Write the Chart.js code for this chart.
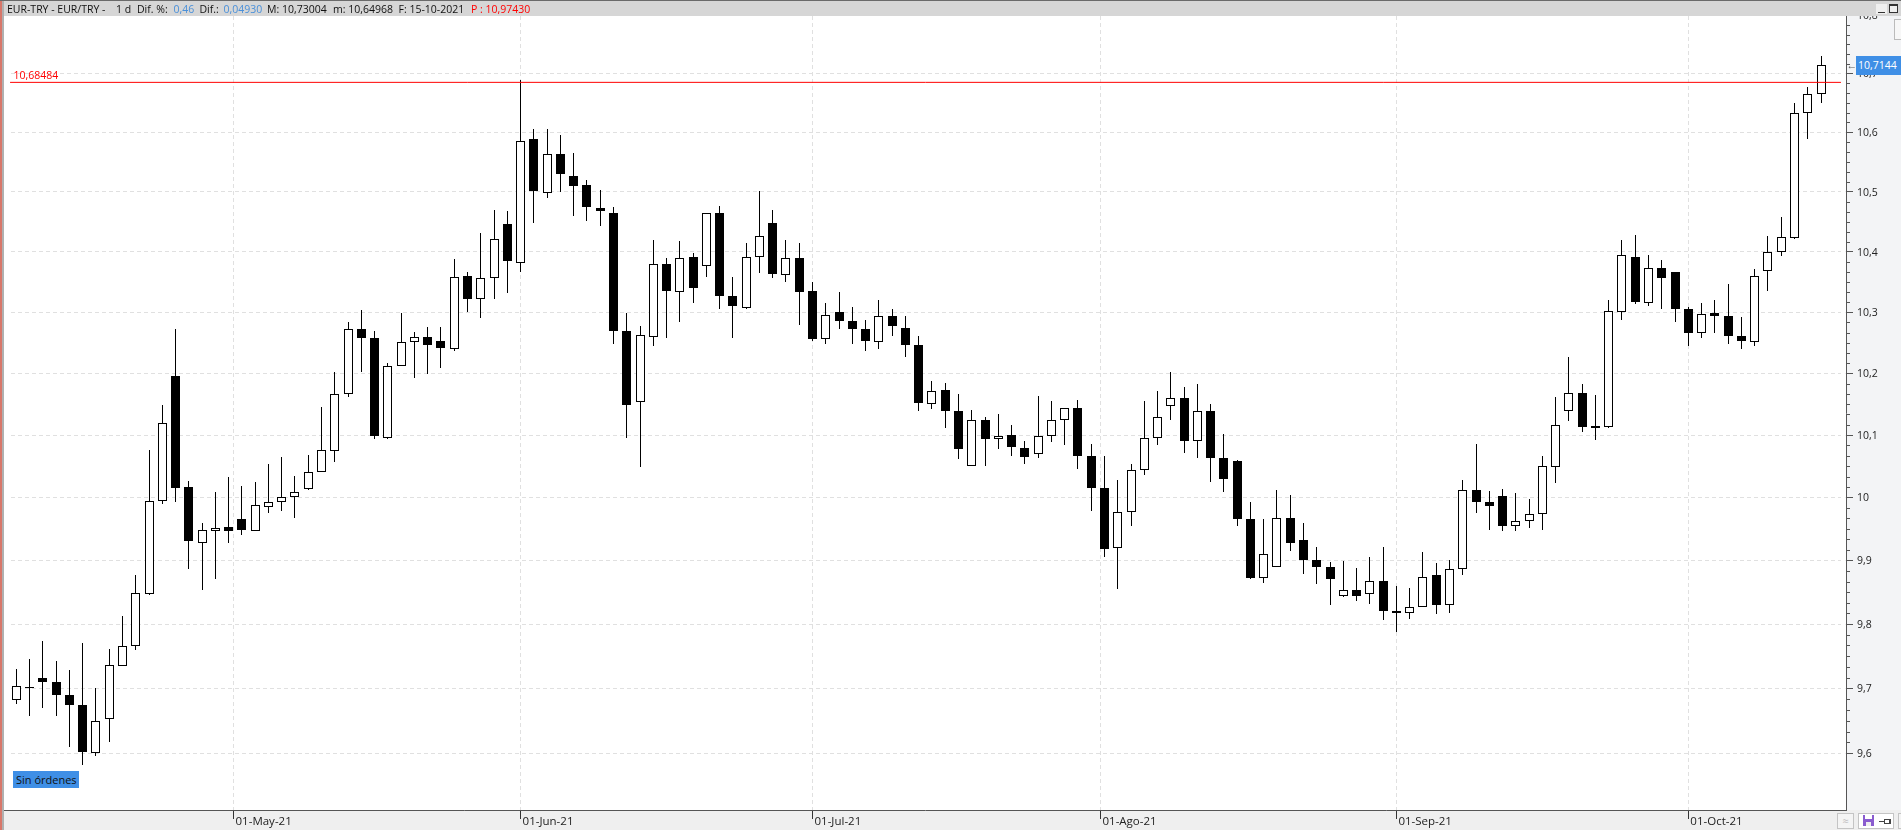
<!DOCTYPE html>
<html><head><meta charset="utf-8">
<style>
html,body{margin:0;padding:0;background:#fff;overflow:hidden}
#stage{position:relative;width:1901px;height:831px;overflow:hidden;background:#fff;font-family:"Open Sans",sans-serif;font-size:10.5px;color:#111}
#stage div,#stage span{position:absolute;white-space:nowrap}
canvas{position:absolute;left:0;top:0}
.hd{top:1px;height:16px;line-height:16px}
</style>
<script src="https://cdn.jsdelivr.net/npm/chart.js@4/dist/chart.umd.js"></script>
</head><body>
<div id="stage">
<div style="left:1846px;top:16px;width:55px;height:794px;background:#f3f4f6"></div>
<div style="left:0;top:810px;width:1901px;height:20px;background:#efefef"></div>
<canvas id="c" width="1901" height="831"></canvas>
<div style="left:0;top:0;width:1901px;height:16px;background:#d6d6d6"></div>
<div style="left:0;top:0;width:1901px;height:1px;background:#6a6a6a"></div>
<div style="left:0;top:1px;width:2px;height:829px;background:#d8776a"></div>
<div style="left:2px;top:1px;width:1.5px;height:829px;background:#b0b0b0"></div>
<span class="hd" style="left:7px">EUR-TRY - EUR/TRY -</span>
<span class="hd" style="left:116px">1 d</span>
<span class="hd" style="left:137px">Dif. %:</span>
<span class="hd" style="left:173.5px;color:#4a90d9">0,46</span>
<span class="hd" style="left:199.5px">Dif.:</span>
<span class="hd" style="left:223.5px;color:#4a90d9">0,04930</span>
<span class="hd" style="left:267px">M: 10,73004</span>
<span class="hd" style="left:333px">m: 10,64968</span>
<span class="hd" style="left:398.5px">F: 15-10-2021</span>
<span class="hd" style="left:471px;color:#f00">P : 10,97430</span>
<div style="left:1876px;top:4px;width:11px;height:10px;background:#efefef"><div style="left:2px;top:8px;width:7px;height:1px;background:#333"></div></div>
<div style="left:1889px;top:4px;width:7px;height:6px;border:1.5px solid #333;border-top-width:2px;background:#efefef"></div>
<div style="left:1894px;top:19px;width:7px;height:19px;border:1px solid #bbb;border-right:none;background:#f7f7f7"></div>
<span style="left:13.5px;top:67px;height:16px;line-height:16px;color:#f00">10,68484</span>
<div style="left:13px;top:771px;width:66px;height:17px;background:#3f8fe6;line-height:17px"><span style="left:3px;top:0;color:#111;font-size:11px">Sin órdenes</span></div>
<span style="left:1846.5px;top:57px;height:16px;line-height:16px;color:#555">←</span>
<div style="left:1856px;top:56px;width:45px;height:19px;background:#3f8fe6;color:#fff;line-height:19px"><span style="left:2px;top:0;font-size:10.5px">10,7144</span></div>
<div style="left:1837px;top:813px;width:15px;height:14px;border:1px solid #c4c4c4;background:#f4f4f4;color:#bbb;font-size:11px;line-height:14px;text-align:center">≈</div>
<div style="left:1858px;top:813px;width:34px;height:14px;border:1px solid #c4c4c4;background:#fff">
 <div style="left:4px;top:1px;width:11px;height:11px;background:#8a5ccf"><div style="left:2px;top:0;width:7px;height:4px;background:#fff"></div><div style="left:3px;top:7px;width:5px;height:4px;background:#eee"></div></div>
 <div style="left:25px;top:5px;width:4px;height:3px;border:1px solid #444;border-right-width:2px"></div>
 <div style="left:20px;top:7px;width:5px;height:1px;background:#444"></div>
</div>
<div style="left:1898px;top:813px;width:4px;height:14px;border:1px solid #c4c4c4;background:#f4f4f4"></div>
</div>
<script>
const dates = ["2021-04-08","2021-04-09","2021-04-12","2021-04-13","2021-04-14","2021-04-15","2021-04-16","2021-04-19","2021-04-20","2021-04-21","2021-04-22","2021-04-23","2021-04-26","2021-04-27","2021-04-28","2021-04-29","2021-04-30",
"2021-05-03","2021-05-04","2021-05-05","2021-05-06","2021-05-07","2021-05-10","2021-05-11","2021-05-12","2021-05-13","2021-05-14","2021-05-17","2021-05-18","2021-05-19","2021-05-20","2021-05-21","2021-05-24","2021-05-25","2021-05-26","2021-05-27","2021-05-28","2021-05-31",
"2021-06-01","2021-06-02","2021-06-03","2021-06-04","2021-06-07","2021-06-08","2021-06-09","2021-06-10","2021-06-11","2021-06-14","2021-06-15","2021-06-16","2021-06-17","2021-06-18","2021-06-21","2021-06-22","2021-06-23","2021-06-24","2021-06-25","2021-06-28","2021-06-29","2021-06-30",
"2021-07-01","2021-07-02","2021-07-05","2021-07-06","2021-07-07","2021-07-08","2021-07-09","2021-07-12","2021-07-13","2021-07-14","2021-07-15","2021-07-16","2021-07-19","2021-07-20","2021-07-21","2021-07-22","2021-07-23","2021-07-26","2021-07-27","2021-07-28","2021-07-29","2021-07-30",
"2021-08-02","2021-08-03","2021-08-04","2021-08-05","2021-08-06","2021-08-09","2021-08-10","2021-08-11","2021-08-12","2021-08-13","2021-08-16","2021-08-17","2021-08-18","2021-08-19","2021-08-20","2021-08-23","2021-08-24","2021-08-25","2021-08-26","2021-08-27","2021-08-30","2021-08-31",
"2021-09-01","2021-09-02","2021-09-03","2021-09-06","2021-09-07","2021-09-08","2021-09-09","2021-09-10","2021-09-13","2021-09-14","2021-09-15","2021-09-16","2021-09-17","2021-09-20","2021-09-21","2021-09-22","2021-09-23","2021-09-24","2021-09-27","2021-09-28","2021-09-29","2021-09-30",
"2021-10-01","2021-10-04","2021-10-05","2021-10-06","2021-10-07","2021-10-08","2021-10-11","2021-10-12","2021-10-13","2021-10-14","2021-10-15"];

const opens = [9.682,9.702,9.716,9.7095,9.690,9.674,9.601,9.653,9.735,9.765,
9.847,9.994,10.196,10.017,9.928,9.947,9.953,9.966,9.947,9.985,
9.992,10.000,10.014,10.040,10.075,10.167,10.273,10.258,10.095,10.212,
10.252,10.2595,10.253,10.239,10.360,10.321,10.356,10.446,10.382,10.589,
10.498,10.5635,10.5265,10.511,10.473,10.4645,10.269,10.154,10.26,10.379,
10.333,10.391,10.377,10.4645,10.327,10.3075,10.392,10.448,10.362,10.39,
10.335,10.2555,10.3,10.2855,10.272,10.252,10.2937,10.2735,10.246,10.15,
10.1727,10.139,10.05,10.1245,10.093,10.0995,10.0788,10.069,10.098,10.124,
10.144,10.0665,10.015,9.919,9.9765,10.0435,10.095,10.1465,10.16,10.09,
10.139,10.063,10.058,9.9654,9.872,9.89,9.968,9.9325,9.9008,9.89,
9.844,9.853,9.847,9.8675,9.82,9.817,9.8265,9.8766,9.83,9.886,
10.012,9.993,10.0024,9.954,9.962,9.973,10.048,10.1385,10.1675,10.115,
10.1135,10.301,10.391,10.316,10.3725,10.366,10.3053,10.2665,10.2987,10.2937,
10.261,10.252,10.368,10.399,10.422,10.632,10.665];

const closes = [9.703,9.701,9.710,9.690,9.675,9.6025,9.649,9.736,9.7655,9.848,
9.994,10.119,10.015,9.930,9.948,9.951,9.947,9.949,9.988,9.992,
10.000,10.008,10.040,10.076,10.166,10.272,10.258,10.098,10.212,10.251,
10.259,10.247,10.2415,10.358,10.321,10.356,10.421,10.384,10.585,10.502,
10.563,10.530,10.510,10.475,10.467,10.270,10.149,10.2625,10.379,10.335,
10.39,10.34,10.464,10.327,10.311,10.392,10.426,10.363,10.389,10.334,
10.2565,10.295,10.286,10.273,10.253,10.293,10.278,10.2465,10.152,10.172,
10.139,10.078,10.124,10.094,10.099,10.081,10.065,10.098,10.124,10.1435,
10.067,10.0157,9.9187,9.9765,10.0435,10.095,10.129,10.16,10.091,10.1385,
10.0637,10.03,9.965,9.873,9.91,9.967,9.928,9.9008,9.89,9.871,
9.853,9.8445,9.867,9.821,9.818,9.826,9.8735,9.8305,9.886,10.0115,
9.9933,9.987,9.955,9.962,9.973,10.05,10.116,10.1675,10.1135,10.112,
10.3015,10.394,10.317,10.3725,10.356,10.306,10.2665,10.2967,10.2943,10.2615,
10.2535,10.3595,10.399,10.424,10.632,10.665,10.7144];

const highs = [9.730,9.746,9.7735,9.7425,9.728,9.770,9.7006,9.761,9.813,9.877,
10.076,10.148,10.272,10.026,9.9595,10.009,10.033,10.018,10.025,10.054,
10.065,10.034,10.068,10.1455,10.202,10.284,10.3036,10.270,10.2165,10.2987,
10.2676,10.2755,10.2755,10.388,10.3665,10.431,10.4695,10.468,10.689,10.6056,
10.6056,10.5955,10.5645,10.519,10.503,10.4745,10.2987,10.277,10.419,10.39,
10.4178,10.398,10.465,10.476,10.358,10.4145,10.5007,10.469,10.4195,10.4145,
10.35,10.315,10.333,10.3085,10.287,10.32,10.3053,10.2937,10.261,10.188,
10.184,10.166,10.141,10.129,10.134,10.116,10.09,10.163,10.155,10.1435,
10.157,10.085,10.066,10.028,10.0535,10.155,10.171,10.202,10.178,10.183,
10.15,10.102,10.06,9.993,9.9654,10.012,10.004,9.9595,9.9215,9.897,
9.899,9.888,9.9055,9.9215,9.86,9.857,9.9135,9.8955,9.9,10.028,
10.0855,10.0105,10.013,10.007,9.9976,10.0665,10.161,10.2267,10.183,10.165,
10.32,10.4195,10.428,10.3945,10.386,10.367,10.308,10.315,10.32,10.3465,
10.2925,10.3713,10.4262,10.458,10.65,10.6767,10.73004];

const lows = [9.676,9.658,9.670,9.658,9.609,9.582,9.596,9.618,9.735,9.760,
9.846,9.989,9.993,9.887,9.854,9.871,9.928,9.941,9.946,9.976,
9.979,9.968,10.0125,10.040,10.056,10.161,10.203,10.094,10.094,10.212,
10.193,10.199,10.209,10.237,10.301,10.291,10.322,10.332,10.367,10.447,
10.49,10.4995,10.4595,10.451,10.443,10.248,10.096,10.049,10.245,10.258,
10.284,10.315,10.358,10.305,10.258,10.305,10.365,10.357,10.349,10.279,
10.2535,10.248,10.272,10.248,10.237,10.24,10.2615,10.2268,10.139,10.142,
10.1115,10.061,10.05,10.05,10.077,10.067,10.0535,10.0625,10.0895,10.084,
10.046,9.979,9.906,9.8557,9.955,10.036,10.084,10.1245,10.072,10.0625,
10.024,10.009,9.955,9.8715,9.865,9.89,9.9155,9.879,9.8635,9.8305,
9.843,9.836,9.832,9.807,9.788,9.8085,9.826,9.8165,9.818,9.8775,
9.976,9.949,9.946,9.946,9.952,9.949,10.0237,10.123,10.1055,10.0925,
10.111,10.287,10.314,10.311,10.306,10.284,10.2445,10.2578,10.2665,10.248,
10.2405,10.245,10.335,10.393,10.421,10.5886,10.64968];

const priceLevel = 10.68484;
const priceTicks = [9.6,9.7,9.8,9.9,10,10.1,10.2,10.3,10.4,10.5,10.6,10.7,10.8];
const monthTickPositions = [16.37,38,60,81.7,104,126];
const monthTickLabels = ["01-May-21","01-Jun-21","01-Jul-21","01-Ago-21","01-Sep-21","01-Oct-21"];

const wickData = dates.map((d,i)=>({x:i,y:[lows[i],highs[i]],date:d}));
const bodyData = dates.map((d,i)=>({x:i,y:[opens[i],closes[i]],date:d}));
const isUp = i => closes[i] > opens[i];

const chromePlugin = {
  id:'chrome',
  beforeDatasetsDraw(chart){
    const {ctx,chartArea:a} = chart;
    ctx.save();
    ctx.fillStyle='#fff';
    ctx.fillRect(a.left,a.top,6,a.bottom-a.top);
    ctx.fillRect(1841,a.top,a.right-1841-0.5,a.bottom-a.top);
    ctx.restore();
    chart.getSortedVisibleDatasetMetas().forEach(m=>{
      if(m.type!=='bar') return;
      m.data.forEach(el=>{
        el.x=Math.round(el.x-0.5)+0.5;
        el.y=Math.round(el.y);
        el.base=Math.round(el.base);
        if(el.y===el.base) el.y=el.base-1;
      });
    });
  },
  afterDraw(chart){
    const {ctx,scales:{y},chartArea:a}=chart;
    ctx.save();
    ctx.strokeStyle='#555';ctx.lineWidth=1;
    ctx.beginPath();
    priceTicks.slice(0,-1).forEach(v=>{
      for(let k=1;k<6;k++){
        const p=Math.round(y.getPixelForValue(v+k/60))+0.5;
        if(p<16||p>a.bottom) continue;
        ctx.moveTo(a.right,p);ctx.lineTo(a.right+4,p);
      }
    });
    ctx.stroke();
    ctx.restore();
  }
};

new Chart(document.getElementById('c'),{
  data:{datasets:[
    {type:'line',order:1,data:[{x:-0.47,y:priceLevel},{x:137.5,y:priceLevel}],borderColor:'#ff0000',borderWidth:1,pointRadius:0,tension:0},
    {type:'bar',order:3,grouped:false,data:wickData,barThickness:1,backgroundColor:'#000',borderWidth:0,inflateAmount:0},
    {type:'bar',order:2,grouped:false,data:bodyData,barThickness:9,
      backgroundColor:c=>isUp(c.dataIndex)?'#fff':'#000',borderColor:'#000',borderWidth:1,borderSkipped:false,inflateAmount:0}
  ]},
  options:{
    responsive:false,animation:false,devicePixelRatio:1,
    layout:{padding:{left:4,top:16,right:0,bottom:0}},
    plugins:{legend:{display:false},tooltip:{enabled:false}},
    scales:{
      x:{type:'linear',position:'bottom',min:-0.927,max:137.88,offset:false,
        afterBuildTicks:a=>{a.ticks=monthTickPositions.map(v=>({value:v}));},
        afterFit:s=>{s.height=21;},
        grid:{offset:false,color:'#e0e0e0',lineWidth:1,tickColor:'#333',tickLength:9,tickWidth:1},
        border:{display:true,color:'#555',width:1,dash:[4,3]},
        ticks:{autoSkip:false,maxRotation:0,minRotation:0,align:'start',padding:-4,labelOffset:2,color:'#222',
          font:{family:'Open Sans',size:11.5},
          callback:v=>{const k=monthTickPositions.indexOf(v);return k<0?'':monthTickLabels[k];}}
      },
      y:{type:'logarithmic',position:'right',min:9.5135,max:10.7986,
        afterBuildTicks:a=>{a.ticks=priceTicks.map(v=>({value:v,major:true}));},
        afterFit:s=>{s.width=55;},
        grid:{color:'#e0e0e0',lineWidth:1,tickColor:'#555',tickLength:7,tickWidth:1},
        border:{display:true,color:'#555',width:1,dash:[4,3]},
        ticks:{autoSkip:false,padding:4,labelOffset:1,color:'#222',font:{family:'Open Sans',size:10.5},
          callback:v=>String(v).replace('.',',')}
      }
    }
  },
  plugins:[chromePlugin]
});
</script>
</body></html>
